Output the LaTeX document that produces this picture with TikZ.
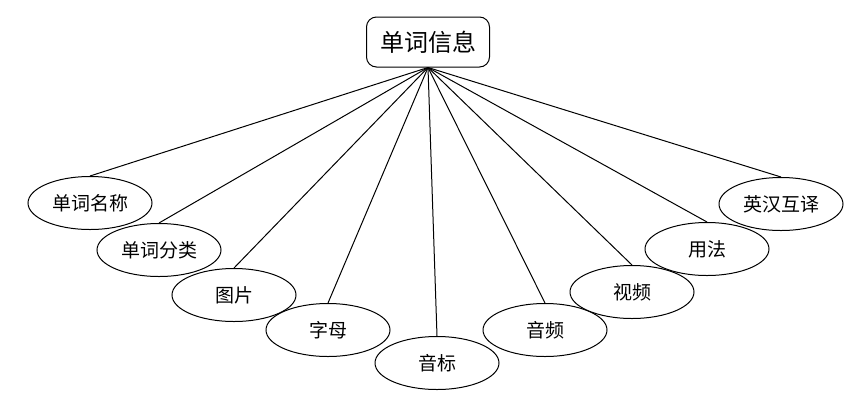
\documentclass[tikz,border=0pt]{standalone}
\usepackage{fontspec}
\newfontfamily\cjk{Noto Sans CJK SC}
\usetikzlibrary{shapes.geometric}

\begin{document}
\begin{tikzpicture}[x=1pt,y=-1pt,line width=1pt]

        \useasboundingbox (0,0) rectangle (865,405);

        \node[draw, rounded corners=10pt, minimum width=123pt, minimum height=50pt,
              font=\cjk\fontsize{24}{24}\selectfont] (0) at (428,42) {单词信息};

        \begin{scope}[every node/.style={ellipse, draw, fill=white, inner sep=0pt,
              minimum width=124pt, minimum height=53pt, font=\cjk\fontsize{19}{19}\selectfont}]
          \node (1)  at (90,203)  {单词名称};
          \node (2)  at (159,250) {单词分类};
          \node (3)  at (234,295) {图片};
          \node (4)  at (328,330) {字母};
          \node (5)  at (437,363) {音标};
          \node (6)  at (545,330) {音频};
          \node (7)  at (632,292) {视频};
          \node (8)  at (707,249) {用法};
          \node (9)  at (781,204) {英汉互译};
        \end{scope}

        \begin{scope}[every edge/.style={draw}]
          \path (0.south)  edge (1.north);
          \path (0.south)  edge (2.north);
          \path (0.south)  edge (3.north);
          \path (0.south)  edge (4.north);
          \path (0.south)  edge (5.north);
          \path (0.south)  edge (6.north);
          \path (0.south)  edge (7.north);
          \path (0.south)  edge (8.north);
          \path (0.south)  edge (9.north);
        \end{scope}

      \end{tikzpicture}
\end{document}
